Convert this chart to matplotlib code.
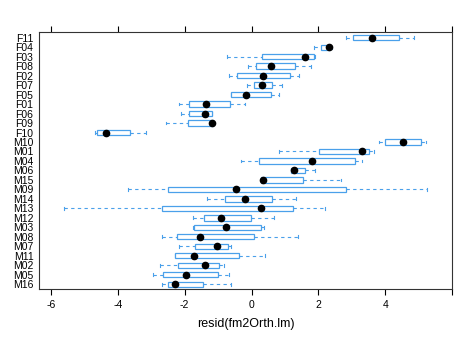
import matplotlib
matplotlib.use("Agg")
import matplotlib.pyplot as plt

# subjects, top to bottom as drawn
subjects = ["F11", "F04", "F03", "F08", "F02", "F07", "F05", "F01", "F06", "F09", "F10",
            "M10", "M01", "M04", "M06", "M15", "M09", "M14", "M13", "M12", "M03", "M08",
            "M07", "M11", "M02", "M05", "M16"]

# five-number summaries: low, q1, median, q3, high
lows = [2.82, 1.86, -0.72, -0.10, -0.68, -0.13, -0.61, -2.16, -2.12, -2.57, -4.69,
        3.82, 0.82, -0.32, 1.18, 0.28, -3.69, -1.32, -5.60, -1.74, -1.74, -2.67,
        -2.17, -2.30, -2.74, -2.94, -2.67]
q1s = [3.05, 2.07, 0.32, 0.13, -0.44, 0.08, -0.61, -1.88, -1.86, -1.89, -4.63,
       3.98, 2.03, 0.22, 1.18, 0.28, -2.49, -0.78, -2.67, -1.42, -1.72, -2.24,
       -1.70, -2.30, -2.21, -2.66, -2.49]
medians = [3.60, 2.31, 1.60, 0.59, 0.34, 0.31, -0.16, -1.35, -1.40, -1.19, -4.35,
           4.53, 3.31, 1.81, 1.27, 0.34, -0.46, -0.19, 0.28, -0.91, -0.75, -1.54,
           -1.04, -1.72, -1.39, -1.97, -2.29]
q3s = [4.40, 2.35, 1.87, 1.31, 1.14, 0.62, 0.57, -0.64, -1.17, -1.15, -3.64,
       5.07, 3.53, 3.09, 1.61, 1.53, 2.82, 0.60, 1.25, -0.01, 0.28, 0.08,
       -0.71, -0.38, -0.96, -0.99, -1.44]
highs = [4.87, 2.42, 1.91, 1.79, 1.41, 0.92, 0.82, -0.19, -1.17, -1.15, -3.17,
         5.22, 3.67, 3.32, 1.89, 2.68, 5.25, 1.32, 2.19, 0.68, 0.38, 1.39,
         -0.61, 0.40, -0.82, -0.66, -0.61]

xticks = [-6, -4, -2, 0, 2, 4, 6]

blue = "#4aa0ea"
box_h = 0.56
cap_h = 0.3

plt.rcParams["font.family"] = ["Liberation Sans", "DejaVu Sans"]

fig = plt.figure(figsize=(4.74, 3.38), dpi=100)
ax = fig.add_axes([0.0823, 0.145, 0.8713, 0.7603])

n = len(subjects)
for i, name in enumerate(subjects):
    y = n - i
    lo, a, m, b, hi = lows[i], q1s[i], medians[i], q3s[i], highs[i]
    # whiskers
    ax.plot([lo, a], [y, y], color=blue, lw=0.8, ls=(0, (3, 3)))
    ax.plot([b, hi], [y, y], color=blue, lw=0.8, ls=(0, (3, 3)))
    ax.plot([lo, lo], [y - cap_h / 2, y + cap_h / 2], color=blue, lw=0.8)
    ax.plot([hi, hi], [y - cap_h / 2, y + cap_h / 2], color=blue, lw=0.8)
    # box
    ax.add_patch(plt.Rectangle((a, y - box_h / 2), b - a, box_h, facecolor="white",
                               edgecolor=blue, lw=0.9, zorder=3))
    ax.plot(m, y, "o", color="black", ms=4.5, zorder=4)

ax.set_xlim(-6.36, 6.0)
ax.set_ylim(0.5, n + 0.6)
ax.set_yticks(range(n, 0, -1))
ax.set_yticklabels(subjects, fontsize=7.5)
ax.set_xticks(xticks)
ax.set_xticklabels([str(t) if t < 6 else "" for t in xticks], fontsize=7.5)
ax.tick_params(axis="y", length=0, pad=4)
ax.tick_params(axis="x", direction="out", length=4, width=0.8, top=True, pad=4)
for s in ax.spines.values():
    s.set_linewidth(0.8)
    s.set_color("#333333")
ax.set_xlabel("resid(fm2Orth.lm)", fontsize=9, labelpad=6)

fig.savefig("out.png", dpi=100)
